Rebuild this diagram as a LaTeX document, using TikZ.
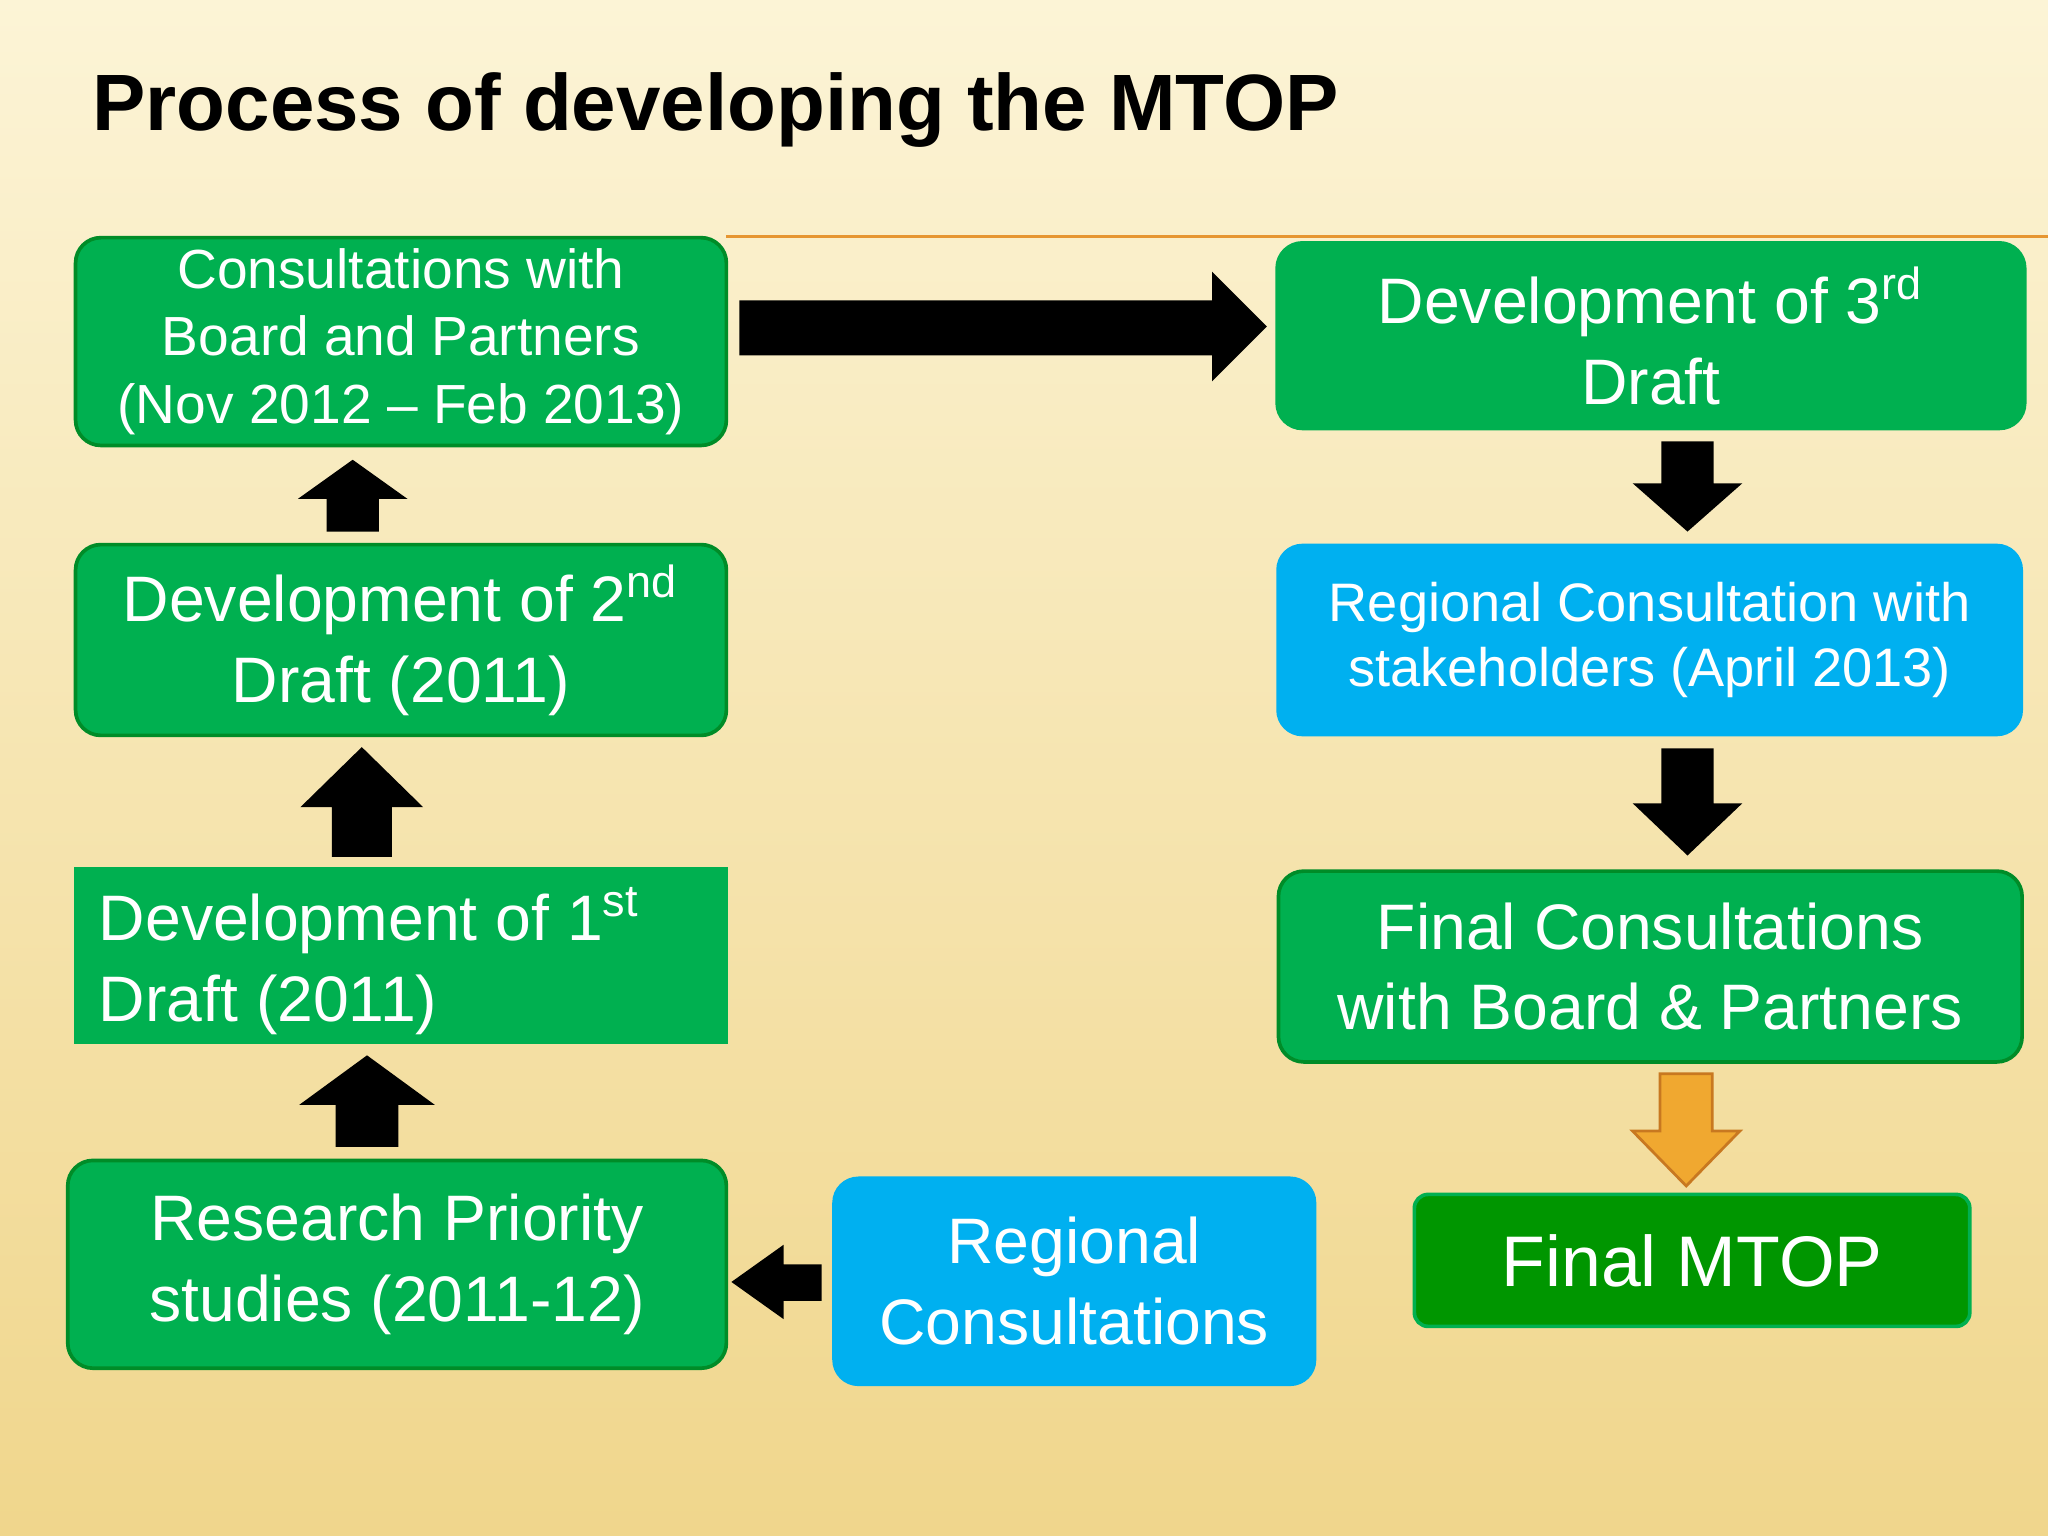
\documentclass[tikz,border=0pt]{standalone}
\usepackage{fontspec}
\setmainfont{Liberation Sans}
\begin{document}
\begin{tikzpicture}[x=0.01cm,y=-0.01cm,
 gbox/.style={fill={rgb,255:red,0;green,176;blue,80}, draw={rgb,255:red,0;green,140;blue,40}, line width=0.8pt, rounded corners=5.5pt, text=white, align=center, inner sep=0pt},
 bbox/.style={fill={rgb,255:red,0;green,176;blue,240}, draw={rgb,255:red,0;green,176;blue,240}, rounded corners=5.5pt, text=white, align=center, inner sep=0pt},
 blk/.style={fill=black}]
\definecolor{bgtop}{RGB}{252,244,214}
\definecolor{bgbot}{RGB}{240,214,140}
\shade[top color=bgtop, bottom color=bgbot] (0,0) rectangle (1568,1176);
\useasboundingbox (0,0) rectangle (1568,1176);
\node[anchor=west, inner sep=0pt, font=\fontsize{17.4}{20}\selectfont\bfseries] (title) at (70,84) {Process of developing the MTOP};
\draw[color={rgb,255:red,230;green,150;blue,50}, line width=0.6pt] (556,181) -- (1568,181);
% left column
\node[gbox, minimum width=4.98cm, minimum height=1.59cm, font=\fontsize{12}{14.7}\selectfont] (c1) at (307,261.5) {Consultations with\\Board and Partners\\(Nov 2012 -- Feb 2013)};
\node[gbox, minimum width=4.98cm, minimum height=1.46cm, font=\fontsize{14}{17.6}\selectfont] (d2) at (307,490) {Development of 2\textsuperscript{nd}\\Draft (2011)};
\node[fill={rgb,255:red,0;green,176;blue,80}, minimum width=5.0cm, minimum height=1.35cm, inner sep=0pt] (d1) at (307,731.5) {};
\node[anchor=west, text=white, align=left, inner sep=0pt, font=\fontsize{14}{17.6}\selectfont] (d1t) at (75,736) {Development of 1\textsuperscript{st}\\Draft (2011)};
\node[gbox, minimum width=5.04cm, minimum height=1.59cm, font=\fontsize{14}{17.6}\selectfont] (rp) at (304,968) {Research Priority\\studies (2011-12)};
\node[bbox, minimum width=3.69cm, minimum height=1.59cm, font=\fontsize{14}{17.6}\selectfont] (rc) at (822.5,981) {Regional\\Consultations};
% right column
\node[gbox, draw={rgb,255:red,0;green,176;blue,80}, minimum width=5.72cm, minimum height=1.42cm, font=\fontsize{14}{17.6}\selectfont] (d3) at (1264,257) {Development of 3\textsuperscript{rd}\\Draft};
\node[bbox, minimum width=5.70cm, minimum height=1.46cm, font=\fontsize{11.8}{14.2}\selectfont] (rs) at (1263,490) {Regional Consultation with\\stakeholders (April 2013)};
\node[gbox, minimum width=5.69cm, minimum height=1.46cm, font=\fontsize{14}{17.6}\selectfont] (fc) at (1263.5,740) {Final Consultations\\with Board \& Partners};
\node[gbox, fill={rgb,255:red,0;green,150;blue,0}, draw={rgb,255:red,0;green,176;blue,80}, rounded corners=3pt, minimum width=4.25cm, minimum height=1.01cm, font=\fontsize{15.6}{18}\selectfont] (fm) at (1295.5,965) {Final MTOP};
% arrows
\fill[blk] (566,230) -- (928,230) -- (928,208) -- (970,250) -- (928,292) -- (928,272) -- (566,272) -- cycle;
\fill[blk] (250,407) -- (250,382) -- (228,382) -- (270,352) -- (312,382) -- (290,382) -- (290,407) -- cycle;
\fill[blk] (254,656) -- (254,618) -- (230,618) -- (277,572) -- (324,618) -- (300,618) -- (300,656) -- cycle;
\fill[blk] (257,878) -- (257,846) -- (229,846) -- (281,808) -- (333,846) -- (305,846) -- (305,878) -- cycle;
\fill[blk] (629,968) -- (600,968) -- (600,953) -- (560,981.5) -- (600,1010) -- (600,996) -- (629,996) -- cycle;
\fill[blk] (1272,338) -- (1312,338) -- (1312,370) -- (1334,370) -- (1292,407) -- (1250,370) -- (1272,370) -- cycle;
\fill[blk] (1272,573) -- (1312,573) -- (1312,615) -- (1334,615) -- (1292,655) -- (1250,615) -- (1272,615) -- cycle;
\filldraw[fill={rgb,255:red,240;green,168;blue,48}, draw={rgb,255:red,200;green,120;blue,32}, line width=0.6pt] (1271,822) -- (1311,822) -- (1311,866) -- (1332,866) -- (1291,908) -- (1250,866) -- (1271,866) -- cycle;
\end{tikzpicture}
\end{document}
